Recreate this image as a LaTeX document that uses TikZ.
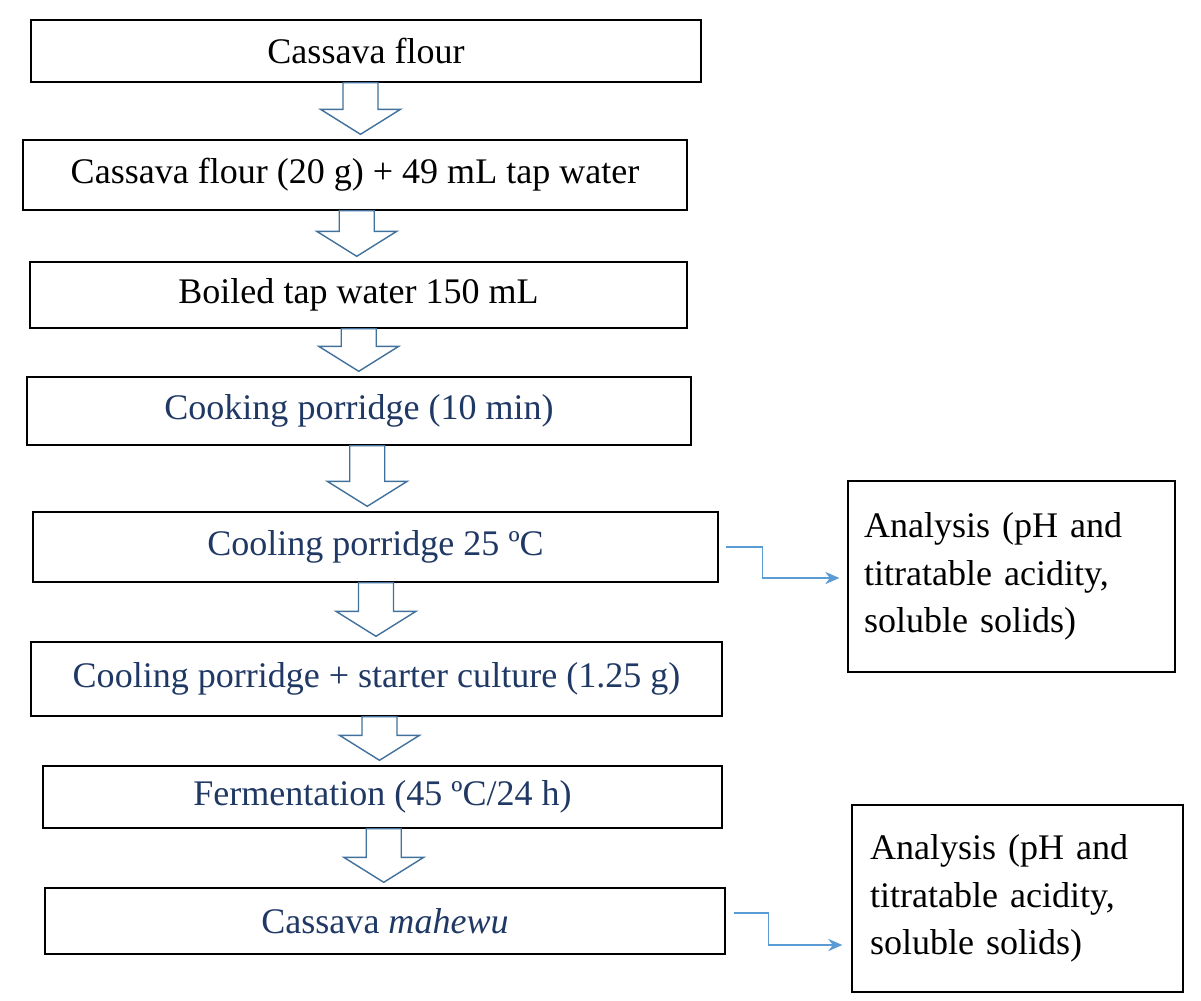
\documentclass[tikz,border=0pt]{standalone}
\usepackage{fontspec}
\setmainfont{Liberation Serif}
\usetikzlibrary{calc,arrows.meta}
\definecolor{arrowblue}{HTML}{41719C}
\definecolor{linkblue}{HTML}{5B9BD5}
\definecolor{navytext}{HTML}{1F3864}

\newcommand\blockdown[2]{%
  \draw[blockarrow] let \p1=($(#1.south)!0.5!(#2.north)$), \p2=(#1.south), \p3=(#2.north) in
    (\x1-0.35cm,\y2) -- (\x1+0.35cm,\y2) -- (\x1+0.35cm,\y3+0.6cm) -- (\x1+0.8cm,\y3+0.6cm)
    -- (\x1,\y3+0.1cm) -- (\x1-0.8cm,\y3+0.6cm) -- (\x1-0.35cm,\y3+0.6cm) -- cycle;}

\begin{document}
\begin{tikzpicture}[
    flowbox/.style={draw, thick, font=\fontsize{20.5}{24}\selectfont, inner sep=0pt},
    blue flowbox/.style={flowbox, text=navytext},
    note/.style={draw, thick, font=\fontsize{20.5}{27}\selectfont, text width=6cm, align=left, inner sep=0pt},
    blockarrow/.style={draw=arrowblue, thick, fill=white},
    link/.style={draw=linkblue, thick, -{Stealth[length=8pt,width=7pt]}}]
  \useasboundingbox (0,0) rectangle (24.02,-20);
  % process steps
  \node[flowbox, minimum width=13.4cm, minimum height=1.24cm] (flour) at (7.32,-1.02) {Cassava flour};
  \node[flowbox, minimum width=13.28cm, minimum height=1.4cm] (mix) at (7.10,-3.5) {Cassava flour (20 g) + 49 mL tap water};
  \node[flowbox, minimum width=13.14cm, minimum height=1.32cm] (water) at (7.17,-5.9) {Boiled tap water 150 mL};
  \node[blue flowbox, minimum width=13.28cm, minimum height=1.36cm] (cook) at (7.18,-8.22) {Cooking porridge (10 min)};
  \node[blue flowbox, minimum width=13.7cm, minimum height=1.4cm] (cool) at (7.51,-10.94) {Cooling porridge 25 ºC};
  \node[blue flowbox, minimum width=13.82cm, minimum height=1.48cm] (starter) at (7.53,-13.58) {Cooling porridge + starter culture (1.25 g)};
  \node[blue flowbox, minimum width=13.58cm, minimum height=1.24cm] (ferm) at (7.65,-15.94) {Fermentation (45 ºC/24 h)};
  \node[blue flowbox, minimum width=13.6cm, minimum height=1.32cm] (mahewu) at (7.7,-18.42) {Cassava \emph{mahewu}};
  % analysis boxes
  \node[note, minimum width=6.54cm, minimum height=3.82cm] (anaA) at (20.23,-11.53)
    {\hspace*{0.05cm}\parbox[t]{6cm}{\raggedright Analysis (pH and\\titratable acidity,\\soluble solids)}\\[1.2cm]};
  \node[note, minimum width=6.62cm, minimum height=3.74cm] (anaB) at (20.35,-17.97)
    {\hspace*{0.05cm}\parbox[t]{6cm}{\raggedright Analysis (pH and\\titratable acidity,\\soluble solids)}\\[1.2cm]};
  % block arrows
  \blockdown{flour}{mix}
  \blockdown{mix}{water}
  \blockdown{water}{cook}
  \blockdown{cook}{cool}
  \blockdown{cool}{starter}
  \blockdown{starter}{ferm}
  \blockdown{ferm}{mahewu}
  % connectors
  \draw[link] ([xshift=0.14cm]cool.east) -- ++(0.74,0) |- ([xshift=-0.16cm,yshift=-0.03cm]anaA.west);
  \draw[link] ([xshift=0.16cm,yshift=0.16cm]mahewu.east) -- ++(0.7,0) |- ([xshift=-0.18cm,yshift=-0.93cm]anaB.west);
\end{tikzpicture}
\end{document}
